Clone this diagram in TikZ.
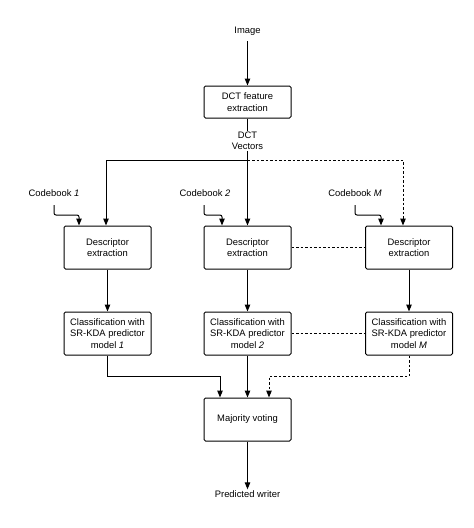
\documentclass[tikz,border=0pt]{standalone}
\usepackage{fontspec}
\setmainfont{Liberation Sans}
\usetikzlibrary{arrows.meta}
\begin{document}
\begin{tikzpicture}[x=1pt,y=-1pt,
  every node/.style={font=\fontsize{9.4}{11.5}\selectfont, align=center, inner sep=1pt},
  box/.style={draw, line width=1pt, rounded corners=1.5pt, minimum width=87pt, inner sep=0pt},
  flow/.style={line width=1pt, -{Triangle[width=5.5pt,length=7pt]}},
  plain/.style={line width=1pt},
  dsh/.style={line width=1pt, dash pattern=on 2.5pt off 2pt}]
\useasboundingbox (0,0) rectangle (474,528);
\node (img) at (247.5,31) {Image};
\node[box, minimum height=32pt] (dct) at (247.5,102) {DCT feature\\extraction};
\node (vec) at (247.5,141) {DCT\\Vectors};
\coordinate (split) at (247.5,160);
\node[box, minimum height=43pt] (d1) at (107.5,247.5) {Descriptor\\extraction};
\node[box, minimum height=43pt] (d2) at (247.5,247.5) {Descriptor\\extraction};
\node[box, minimum height=43pt] (d3) at (409,247.5) {Descriptor\\extraction};
\node[box, minimum height=43pt] (c1) at (107.5,333.5) {Classification with\\SR-KDA predictor\\model \textit{1}};
\node[box, minimum height=43pt] (c2) at (247.5,333.5) {Classification with\\SR-KDA predictor\\model \textit{2}};
\node[box, minimum height=43pt] (c3) at (409,333.5) {Classification with\\SR-KDA predictor\\model \textit{M}};
\node[box, minimum height=43pt] (mv) at (247.5,419.5) {Majority voting};
\node (pw) at (247.5,494) {Predicted writer};
\node (cb1) at (54,193) {Codebook \textit{1}};
\node (cb2) at (205,193) {Codebook \textit{2}};
\node (cb3) at (355,193) {Codebook \textit{M}};
\coordinate (s1) at (54,205);
\coordinate (s2) at (204,205);
\coordinate (s3) at (355,205);
\coordinate (j1) at (107.5,376);
\coordinate (j3) at (409,376);
% top
\draw[flow, shorten <=5pt] (img) -- (dct);
\draw[plain] (dct) -- (vec);
\draw[plain] (vec) -- (split);
\draw[flow] (split) -| ([xshift=-1.5pt]d1.north);
\draw[flow] (split) -- (d2.north);
\draw[flow, dsh] (split) -| ([xshift=-6pt]d3.north);
% codebooks
\draw[flow, rounded corners=2pt] (s1) |- ++(25,10) -- ([xshift=-28.5pt]d1.north);
\draw[flow, rounded corners=2pt] (s2) |- ++(18,10) -- ([xshift=-25.5pt]d2.north);
\draw[flow, rounded corners=2pt] (s3) |- ++(26,10) -- ([xshift=-28pt]d3.north);
% descriptors to classification
\draw[flow] (d1) -- (c1);
\draw[flow] (d2) -- (c2);
\draw[flow] (d3) -- (c3);
\draw[dsh] (d2) -- (d3);
\draw[dsh] (c2) -- (c3);
% to majority
\draw[flow] (c1.south) -- (j1) -| ([xshift=-27.5pt]mv.north);
\draw[flow] (c2) -- (mv);
\draw[flow, dsh] (c3.south) -- (j3) -| ([xshift=21.5pt]mv.north);
\draw[flow] (mv) -- (pw);
\end{tikzpicture}
\end{document}
